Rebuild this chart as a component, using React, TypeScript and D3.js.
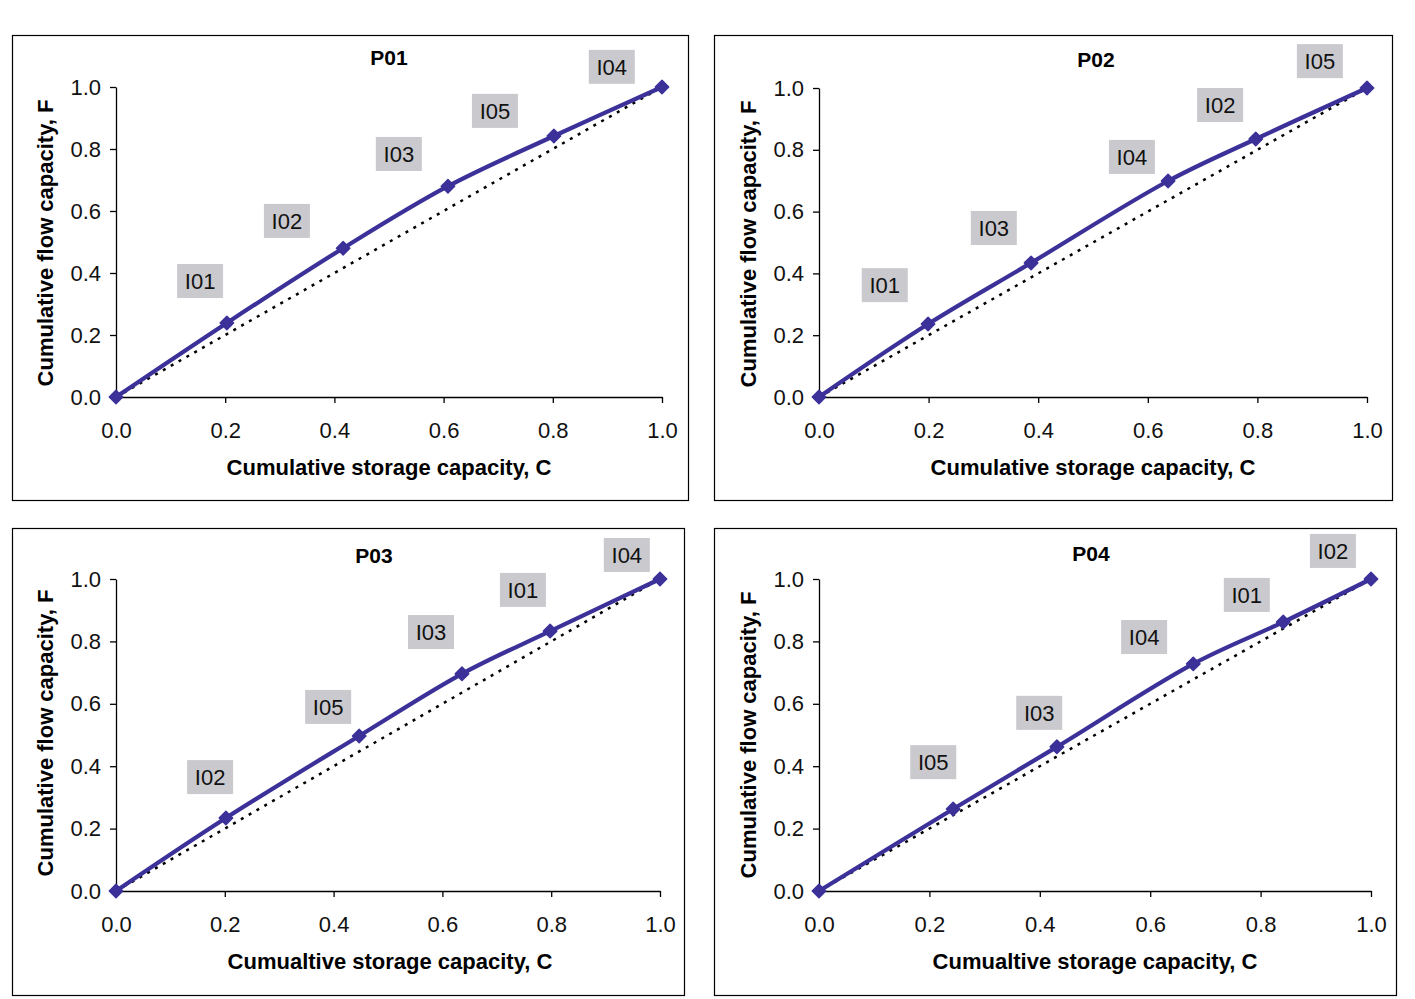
import { useEffect, useRef } from 'react'
import * as d3 from 'd3'

// cumulative storage capacity (C) and flow capacity (F) per producer
const panelNames = ['P01', 'P02', 'P03', 'P04']
const xTitles = [
  'Cumulative storage capacity, C',
  'Cumulative storage capacity, C',
  'Cumualtive storage capacity, C',
  'Cumualtive storage capacity, C',
]
const yTitle = 'Cumulative flow capacity, F'

const storageC = [
  [0, 0.203, 0.416, 0.608, 0.802, 1.0],
  [0, 0.199, 0.387, 0.637, 0.797, 1.0],
  [0, 0.202, 0.447, 0.636, 0.798, 1.0],
  [0, 0.243, 0.431, 0.678, 0.841, 1.0],
]
const flowF = [
  [0, 0.239, 0.48, 0.68, 0.842, 1.0],
  [0, 0.236, 0.434, 0.699, 0.835, 1.0],
  [0, 0.234, 0.497, 0.696, 0.833, 1.0],
  [0, 0.263, 0.462, 0.728, 0.862, 1.0],
]

// injector labels, in the order they sit along the curve
const injectors = [
  ['I01', 'I02', 'I03', 'I05', 'I04'],
  ['I01', 'I03', 'I04', 'I02', 'I05'],
  ['I02', 'I05', 'I03', 'I01', 'I04'],
  ['I05', 'I03', 'I04', 'I01', 'I02'],
]
// label anchors in data units (C, F)
const labelC = [
  [0.154, 0.313, 0.518, 0.694, 0.908],
  [0.12, 0.319, 0.571, 0.732, 0.914],
  [0.173, 0.39, 0.579, 0.748, 0.939],
  [0.207, 0.399, 0.589, 0.775, 0.931],
]
const labelF = [
  [0.374, 0.568, 0.784, 0.923, 1.065],
  [0.362, 0.547, 0.777, 0.945, 1.087],
  [0.365, 0.59, 0.83, 0.965, 1.077],
  [0.413, 0.571, 0.814, 0.949, 1.09],
]

const tickValues = [0, 0.2, 0.4, 0.6, 0.8, 1.0]

// page layout of each panel
const frames = [
  { x0: 12, y0: 35, x1: 688, y1: 500, px: [116, 662], py: [397, 87], title: [389, 58], xlab: [389, 467], ylab: [45, 243] },
  { x0: 714, y0: 35, x1: 1392, y1: 500, px: [819, 1367], py: [397, 88], title: [1096, 60], xlab: [1093, 467], ylab: [748, 244] },
  { x0: 12, y0: 528, x1: 684, y1: 995, px: [116, 660], py: [891, 579], title: [374, 556], xlab: [390, 961], ylab: [45, 733] },
  { x0: 714, y0: 528, x1: 1396, y1: 995, px: [819, 1371], py: [891, 579], title: [1091, 554], xlab: [1095, 961], ylab: [748, 735] },
]

const lineColor = '#3b3199'
const font = 'Arial, "Liberation Sans", sans-serif'

export default function App() {
  const svgRef = useRef<SVGSVGElement>(null)

  useEffect(() => {
    if (!svgRef.current) return
    const svg = d3.select(svgRef.current)
    svg.selectAll('*').remove()

    svg.append('rect').attr('width', 1415).attr('height', 999).attr('fill', '#fff')

    frames.forEach((f, i) => {
      const g = svg.append('g')

      g.append('rect')
        .attr('x', f.x0 + 0.5)
        .attr('y', f.y0 + 0.5)
        .attr('width', f.x1 - f.x0)
        .attr('height', f.y1 - f.y0)
        .attr('fill', '#fff')
        .attr('stroke', '#000')
        .attr('stroke-width', 1.2)

      const x = d3.scaleLinear().domain([0, 1]).range(f.px)
      const y = d3.scaleLinear().domain([0, 1]).range(f.py)

      const xAxis = g.append('g')
        .attr('transform', `translate(0,${f.py[0]})`)
        .call(d3.axisBottom(x).tickValues(tickValues).tickFormat(d3.format('.1f')).tickSize(6).tickPadding(19).tickSizeOuter(0))
      const yAxis = g.append('g')
        .attr('transform', `translate(${f.px[0]},0)`)
        .call(d3.axisLeft(y).tickValues(tickValues).tickFormat(d3.format('.1f')).tickSize(6).tickPadding(9).tickSizeOuter(0))

      ;[xAxis, yAxis].forEach(a => {
        a.selectAll('path, line').attr('stroke', '#000').attr('stroke-width', 1.3)
        a.selectAll('text')
          .attr('fill', '#111')
          .style('font-family', font)
          .style('font-size', '22px')
      })

      // 1:1 reference line
      g.append('line')
        .attr('x1', x(0)).attr('y1', y(0))
        .attr('x2', x(1)).attr('y2', y(1))
        .attr('stroke', '#000')
        .attr('stroke-width', 2.5)
        .attr('stroke-dasharray', '3,6')

      const pts = storageC[i].map((c, j) => [c, flowF[i][j]] as [number, number])

      const line = d3.line<[number, number]>()
        .x(d => x(d[0]))
        .y(d => y(d[1]))
        .curve(d3.curveCatmullRom.alpha(0.5))

      g.append('path')
        .datum(pts)
        .attr('fill', 'none')
        .attr('stroke', lineColor)
        .attr('stroke-width', 4.2)
        .attr('d', line)

      g.selectAll('.mk')
        .data(pts)
        .enter()
        .append('path')
        .attr('class', 'mk')
        .attr('transform', d => `translate(${x(d[0])},${y(d[1])}) rotate(45)`)
        .attr('d', d3.symbol(d3.symbolSquare, 90)())
        .attr('fill', lineColor)
        .attr('stroke', lineColor)
        .attr('stroke-width', 1.5)
        .attr('stroke-linejoin', 'round')

      const labels = g.selectAll('.lb')
        .data(injectors[i])
        .enter()
        .append('g')
        .attr('class', 'lb')
        .attr('transform', (_, j) => `translate(${x(labelC[i][j])},${y(labelF[i][j])})`)

      labels.append('rect')
        .attr('x', -23).attr('y', -17)
        .attr('width', 46).attr('height', 34)
        .attr('fill', '#c9c9ce')

      labels.append('text')
        .attr('text-anchor', 'middle')
        .attr('dy', '0.35em')
        .attr('fill', '#111')
        .style('font-family', font)
        .style('font-size', '22px')
        .text(d => d)

      g.append('text')
        .attr('x', f.title[0]).attr('y', f.title[1])
        .attr('text-anchor', 'middle')
        .attr('dy', '0.35em')
        .style('font-family', font)
        .style('font-size', '21px')
        .style('font-weight', 'bold')
        .text(panelNames[i])

      g.append('text')
        .attr('x', f.xlab[0]).attr('y', f.xlab[1])
        .attr('text-anchor', 'middle')
        .attr('dy', '0.35em')
        .style('font-family', font)
        .style('font-size', '22px')
        .style('font-weight', 'bold')
        .text(xTitles[i])

      g.append('text')
        .attr('transform', `translate(${f.ylab[0]},${f.ylab[1]}) rotate(-90)`)
        .attr('text-anchor', 'middle')
        .attr('dy', '0.35em')
        .style('font-family', font)
        .style('font-size', '22px')
        .style('font-weight', 'bold')
        .text(yTitle)
    })
  }, [])

  return (
    <div style={{ position: 'absolute', left: 0, top: 0 }}>
      <svg ref={svgRef} width={1415} height={999} style={{ display: 'block' }} />
    </div>
  )
}
